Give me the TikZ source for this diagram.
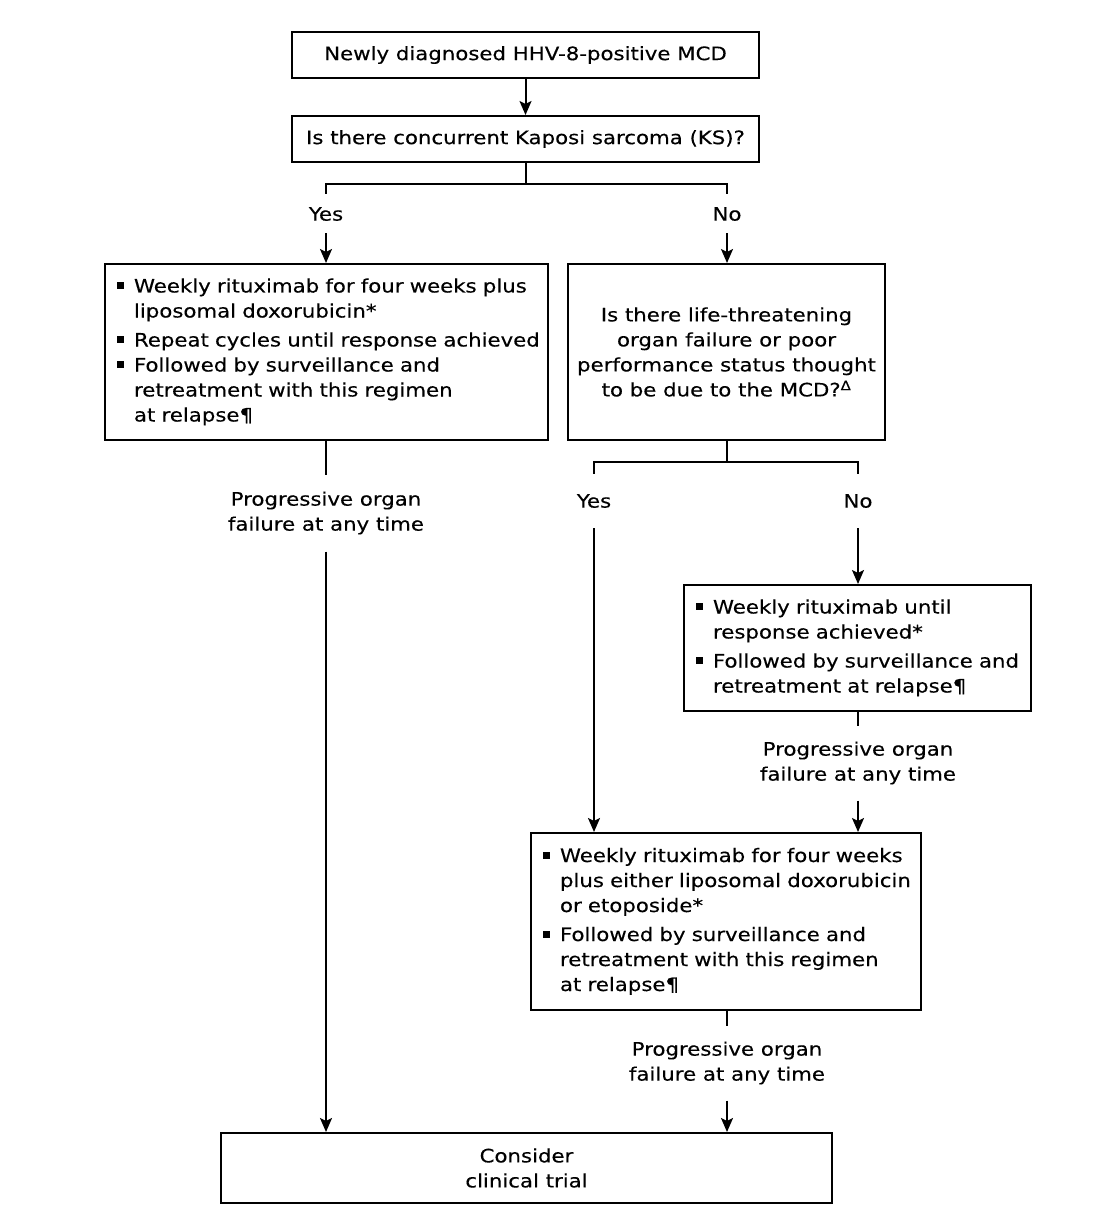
\documentclass[tikz,border=0pt]{standalone}
\usepackage{fontspec}
\setmainfont{DejaVu Sans}[FakeStretch=1.15, FakeBold=0.35]
\usetikzlibrary{arrows.meta}

\newcommand{\sq}{\rule[3.5pt]{7pt}{7pt}}
\newcommand{\blist}[1]{\begin{tabular}{@{}l@{\hspace{10pt}}l@{}}#1\end{tabular}}

\begin{document}
\begin{tikzpicture}[x=1pt, y=1pt, line width=2pt,
		font=\fontsize{18.5}{25}\selectfont,
		>={Stealth[length=14pt, width=12pt, inset=3pt]},
		box/.style={draw, line width=2pt, inner sep=0pt, align=center},
		listbox/.style={draw, line width=2pt, inner ysep=0pt, inner xsep=12pt, align=left},
		lbl/.style={inner sep=0pt, align=center}]
		\useasboundingbox (0, 0) rectangle (1098, -1230);
		% top of the chart
		\node[box, minimum width=467pt, minimum height=46pt] (new) at (525.5, -55) {Newly diagnosed HHV-8-positive MCD};
		\node[box, minimum width=467pt, minimum height=46pt] (ks) at (525.5, -139) {Is there concurrent Kaposi sarcoma (KS)?};
		\draw[->] (new.south) -- (ks.north);
		\node[lbl, minimum height=37pt] (ksyes) at (326, -214) {Yes};
		\node[lbl, minimum height=37pt] (ksno) at (727, -214) {No};
		\draw (ks.south) -- ++(0, -21) coordinate (ksfork);
		\draw (ksfork) -| (ksyes.north);
		\draw (ksfork) -| (ksno.north);
		% KS branch
		\node[listbox, text width=419pt, minimum height=176pt] (txks) at (326.5, -352) {\blist{
			\sq & Weekly rituximab for four weeks plus\\
			& liposomal doxorubicin*\\[4pt]
			\sq & Repeat cycles until response achieved\\
			\sq & Followed by surveillance and\\
			& retreatment with this regimen\\
			& at relapse¶}};
		\node[box, minimum width=317pt, minimum height=176pt] (organ) at (726.5, -352) {Is there life-threatening\\organ failure or poor\\performance status thought\\to be due to the MCD?\textsuperscript{Δ}};
		\draw[->] (ksyes.south) -- (ksyes.south |- txks.north);
		\draw[->] (ksno.south) -- (ksno.south |- organ.north);
		\node[lbl, minimum height=75pt] (progks) at (326, -513) {Progressive organ\\failure at any time};
		\draw (progks.north |- txks.south) -- (progks.north);
		% organ failure branch
		\node[lbl, minimum height=52pt] (orgyes) at (594, -501) {Yes};
		\node[lbl, minimum height=52pt] (orgno) at (858, -501) {No};
		\draw (organ.south) -- ++(0, -21) coordinate (orgfork);
		\draw (orgfork) -| (orgyes.north);
		\draw (orgfork) -| (orgno.north);
		\node[listbox, text width=323pt, minimum height=126pt] (ritux) at (857.5, -648) {\blist{
			\sq & Weekly rituximab until\\
			& response achieved*\\[4pt]
			\sq & Followed by surveillance and\\
			& retreatment at relapse¶}};
		\draw[->] (orgno.south) -- (orgno.south |- ritux.north);
		\node[lbl, minimum height=73pt] (progrit) at (858, -763) {Progressive organ\\failure at any time};
		\draw (progrit.north |- ritux.south) -- (progrit.north);
		\node[listbox, text width=366pt, minimum height=177pt] (combo) at (726, -921.5) {\blist{
			\sq & Weekly rituximab for four weeks\\
			& plus either liposomal doxorubicin\\
			& or etoposide*\\[4pt]
			\sq & Followed by surveillance and\\
			& retreatment with this regimen\\
			& at relapse¶}};
		\draw[->] (orgyes.south) -- (orgyes.south |- combo.north);
		\draw[->] (progrit.south) -- (progrit.south |- combo.north);
		\node[lbl, minimum height=73pt] (progcombo) at (727, -1063) {Progressive organ\\failure at any time};
		\draw (progcombo.north |- combo.south) -- (progcombo.north);
		% bottom
		\node[box, minimum width=611pt, minimum height=70pt] (trial) at (526.5, -1168) {Consider\\clinical trial};
		\draw[->] (progks.south) -- (progks.south |- trial.north);
		\draw[->] (progcombo.south) -- (progcombo.south |- trial.north);
\end{tikzpicture}
\end{document}
